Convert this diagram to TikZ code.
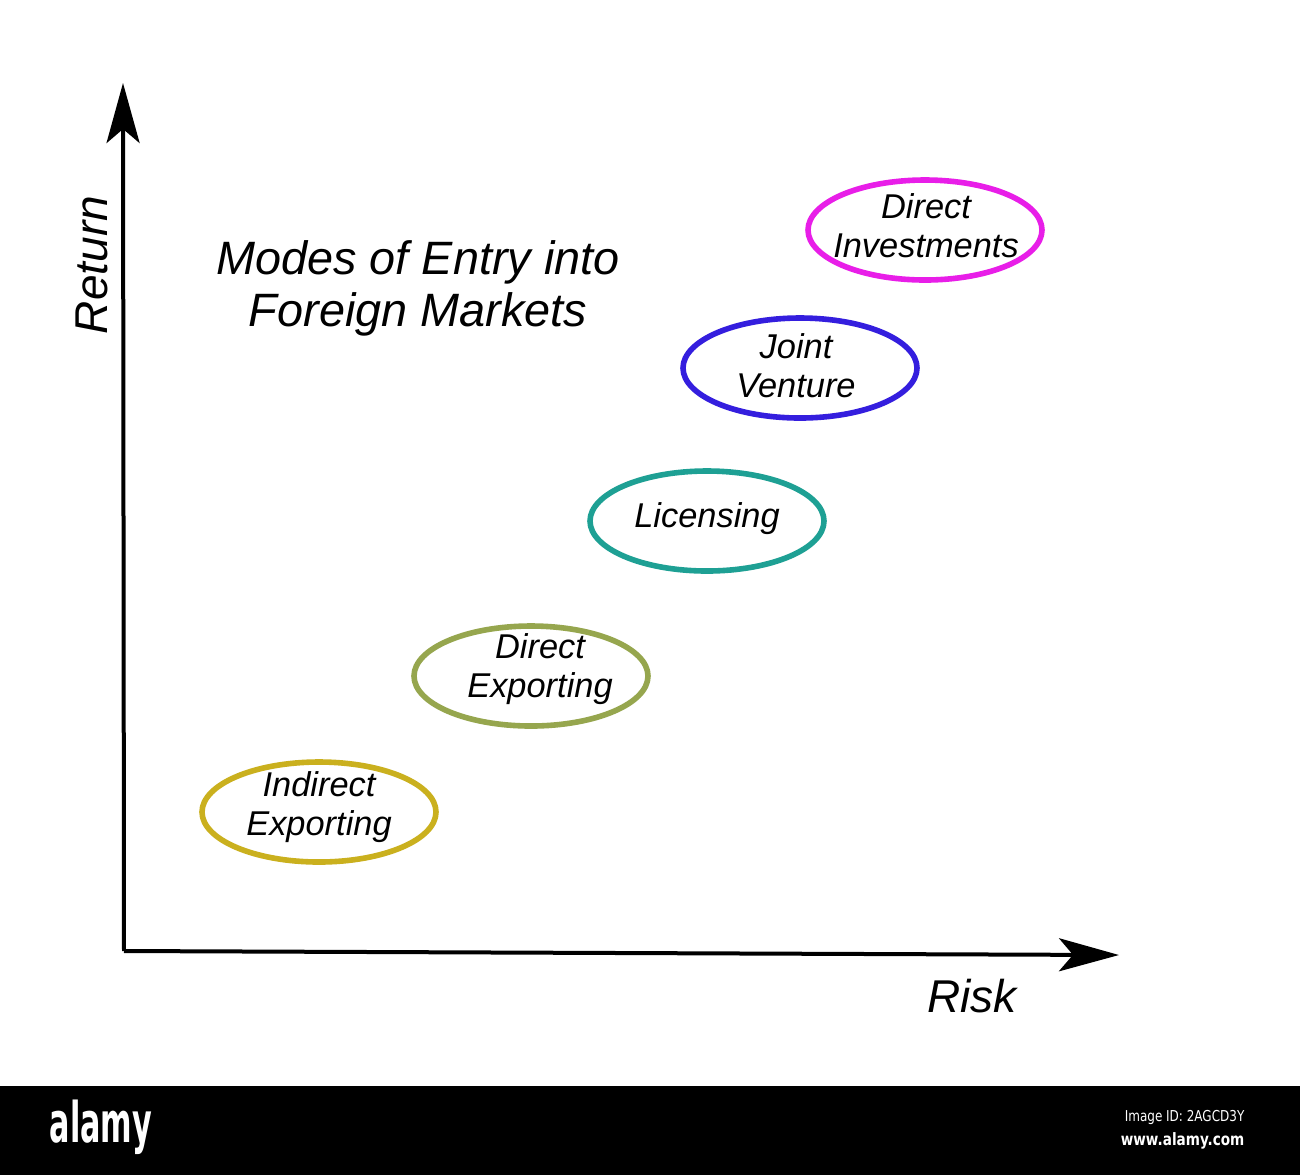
\documentclass[tikz,border=0pt]{standalone}
\usepackage{fontspec}
\setmainfont{Liberation Sans}
\newfontfamily\wmfont{DejaVu Sans}
\usetikzlibrary{arrows.meta,shapes.geometric}
\definecolor{diColor}{RGB}{232,30,232}
\definecolor{jvColor}{RGB}{52,30,222}
\definecolor{liColor}{RGB}{30,160,148}
\definecolor{deColor}{RGB}{150,166,78}
\definecolor{ieColor}{RGB}{202,176,30}

\begin{document}
\begin{tikzpicture}[x=0.5pt, y=-0.5pt,
  axis/.style={line width=2pt, -{Stealth[length=30pt, width=16.5pt, inset=7pt]}},
  mode/.style={draw=#1, line width=2.8pt, ellipse, minimum width=117pt, minimum height=50pt, inner sep=0pt},
  modetext/.style={font=\fontsize{17.2}{19.5}\selectfont\itshape, align=center, inner sep=0pt},
  axislabel/.style={font=\fontsize{23}{26}\selectfont\itshape}]
\useasboundingbox[fill=white] (0,0) rectangle (1300,1175);
% axes
\coordinate (origin) at (124,951);
\coordinate (ytop) at (123,83);
\coordinate (xend) at (1119,955);
\draw[axis] (origin) -- (ytop);
\draw[axis] (origin) -- (xend);
\node[axislabel, rotate=90] (return) at (92,265) {Return};
\node[axislabel] (risk) at (972,996) {Risk};
\node[axislabel, align=center, font=\fontsize{23.4}{26}\selectfont\itshape] (title) at (418,288) {Modes of Entry into\\Foreign Markets};
% modes of entry
\node[mode=diColor] (di) at (925,230) {};
\node[modetext] (di-txt) at (926,226) {Direct\\Investments};
\node[mode=jvColor] (jv) at (800,368) {};
\node[modetext] (jv-txt) at (796,366) {Joint\\Venture};
\node[mode=liColor] (li) at (707,521) {};
\node[modetext] (li-txt) at (707,519) {Licensing};
\node[mode=deColor] (de) at (531,676) {};
\node[modetext] (de-txt) at (540,669) {Direct\\Exporting};
\node[mode=ieColor] (ie) at (319,812) {};
\node[modetext] (ie-txt) at (319,807) {Indirect\\Exporting};
% watermark bar
\fill[black] (0,1086) rectangle (1300,1175);
\node[white, font=\wmfont\bfseries\fontsize{28}{28}\selectfont, xscale=0.54] (logo) at (101,1127) {alamy};
\node[white, font=\wmfont\fontsize{7.5}{9}\selectfont, xscale=0.8, anchor=east] (imgid) at (1250,1117) {Image ID: 2AGCD3Y};
\node[white, font=\wmfont\bfseries\fontsize{8.5}{10}\selectfont, xscale=0.8, anchor=east] (www) at (1250,1141) {www.alamy.com};
\end{tikzpicture}
\end{document}
